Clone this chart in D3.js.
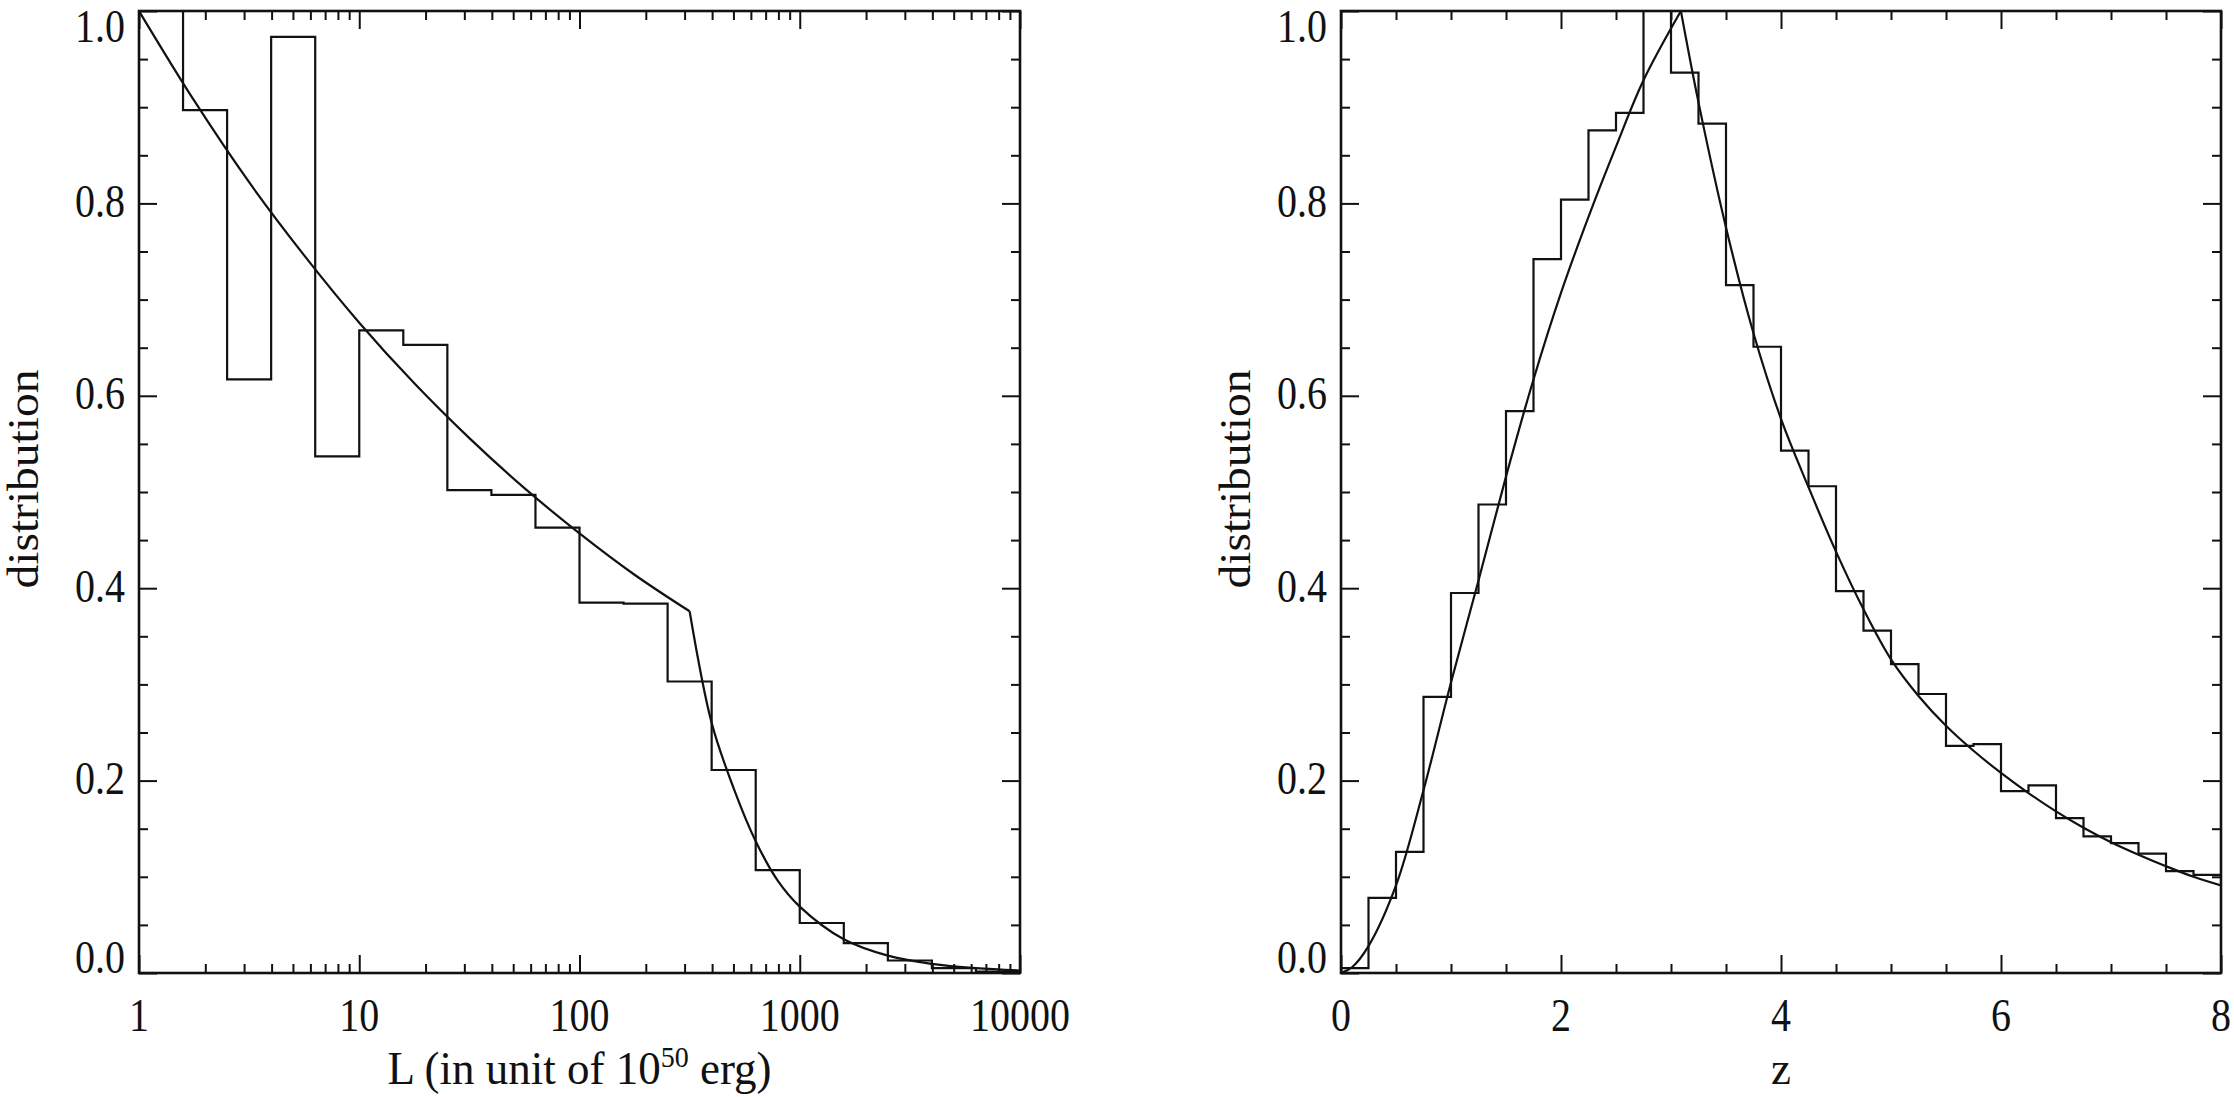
<!DOCTYPE html>
<html>
<head>
<meta charset="utf-8">
<script src="https://cdnjs.cloudflare.com/ajax/libs/d3/7.8.5/d3.min.js"></script>
<style>
  body { margin: 0; background: #fff; }
  svg { display: block; }
  text { font-family: "Liberation Serif", "Times New Roman", serif; fill: #111; }
</style>
</head>
<body>
<svg id="chart" width="2234" height="1097"></svg>
<script>
// ---- left panel: luminosity distribution (0.2 dex bins) ----
const lumEdges = [1, 1.585, 2.512, 3.981, 6.310, 10, 15.85, 25.12, 39.81, 63.10, 100,
                  158.5, 251.2, 398.1, 631.0, 1000, 1585, 2512, 3981, 6310, 10000];
const lumDist = [1.0, 0.897, 0.617, 0.973, 0.537, 0.668, 0.653, 0.502, 0.497, 0.463,
                 0.385, 0.384, 0.303, 0.211, 0.107, 0.052, 0.031, 0.013, 0.005, 0.0015];
// fitted curve, below and above the break
const lumFitL = [1, 1.778, 3.162, 5.623, 10, 17.78, 31.62, 56.23, 100, 177.8, 316.2];
const lumFitY = [1.0, 0.907, 0.822, 0.746, 0.676, 0.613, 0.556, 0.504, 0.457, 0.414, 0.376];
const lumTailL = [316.2, 398.1, 501.2, 631.0, 794.3, 1000, 1585, 2512, 3981, 6310, 10000];
const lumTailY = [0.376, 0.260, 0.192, 0.137, 0.096, 0.069, 0.035, 0.018, 0.0095, 0.005, 0.0026];
const lumTicks = [1, 10, 100, 1000, 10000];

// ---- right panel: redshift distribution (0.25 bins) ----
const zEdges = [0, 0.25, 0.5, 0.75, 1, 1.25, 1.5, 1.75, 2, 2.25, 2.5, 2.75, 3, 3.25, 3.5, 3.75, 4,
                4.25, 4.5, 4.75, 5, 5.25, 5.5, 5.75, 6, 6.25, 6.5, 6.75, 7, 7.25, 7.5, 7.75, 8];
const zDist = [0.005, 0.078, 0.126, 0.287, 0.395, 0.487, 0.584, 0.742, 0.804, 0.876, 0.894, 1.0,
               0.936, 0.883, 0.715, 0.651, 0.543, 0.506, 0.397, 0.356, 0.321, 0.290, 0.236, 0.238,
               0.189, 0.195, 0.161, 0.142, 0.135, 0.124, 0.106, 0.102];
const zRiseX = [0, 0.1, 0.25, 0.5, 0.75, 1.0, 1.25, 1.5, 1.75, 2.0, 2.25, 2.5, 2.75, 3.09];
const zRiseY = [0, 0.006, 0.028, 0.091, 0.19, 0.302, 0.408, 0.516, 0.617, 0.707, 0.786, 0.859, 0.928, 1.0];
const zFallX = [3.09, 3.25, 3.5, 3.75, 4.0, 4.25, 4.5, 4.75, 5.0, 5.25, 5.5, 5.75, 6.0, 6.25,
                6.5, 6.75, 7.0, 7.25, 7.5, 7.75, 8.0];
const zFallY = [1.0, 0.905, 0.775, 0.665, 0.576, 0.505, 0.438, 0.378, 0.326, 0.288, 0.257, 0.231,
                0.208, 0.187, 0.168, 0.151, 0.136, 0.123, 0.111, 0.100, 0.091];
const zTicks = [0, 2, 4, 6, 8];
const zMinor = [0.5, 1, 1.5, 2.5, 3, 3.5, 4.5, 5, 5.5, 6.5, 7, 7.5];

const yTicks = [0, 0.2, 0.4, 0.6, 0.8, 1.0];
const yMinor = [0.05, 0.1, 0.15, 0.25, 0.3, 0.35, 0.45, 0.5, 0.55, 0.65, 0.7, 0.75, 0.85, 0.9, 0.95];

const svg = d3.select("#chart");
svg.append("rect").attr("width", 2234).attr("height", 1097).attr("fill", "#fff");

const plotTop = 11, plotBottom = 973;
const ink = "#111";
const stretch = 1.15;   // the original lettering is taller than it is wide

// end labels sit inside the frame, the rest sit on their tick
const yLabelShift = d => d === 1 ? 15.5 : (d === 0 ? -15.5 : -2);

function drawPanel(cfg) {
  const g = svg.append("g");
  let x = cfg.x, y = d3.scaleLinear().domain([0, 1]).range([plotBottom, plotTop]);
  let [x0, x1] = x.range();

  g.append("clipPath").attr("id", cfg.id + "-clip")
    .append("rect").attr("x", x0).attr("y", plotTop).attr("width", x1 - x0).attr("height", plotBottom - plotTop);

  // histogram as a step line
  let steps = [];
  cfg.values.forEach((v, i) => {
    steps.push([cfg.edges[i], Math.min(v, 1)]);
    steps.push([cfg.edges[i + 1], Math.min(v, 1)]);
  });
  let line = d3.line().x(d => x(d[0])).y(d => y(d[1]));
  g.append("path").attr("clip-path", `url(#${cfg.id}-clip)`)
    .attr("d", line(steps)).attr("fill", "none").attr("stroke", ink).attr("stroke-width", 2.2);

  // model curve, drawn in two pieces so the kink stays sharp
  let smooth = d3.line().x(d => x(d[0])).y(d => y(d[1])).curve(d3.curveCatmullRom.alpha(0.5));
  cfg.curves.forEach(c => {
    g.append("path").attr("clip-path", `url(#${cfg.id}-clip)`)
      .attr("d", smooth(d3.zip(c[0], c[1])))
      .attr("fill", "none").attr("stroke", ink).attr("stroke-width", 2.2);
  });

  // ticks pointing inward on all four sides
  let styleAxis = sel => {
    sel.select(".domain").remove();
    sel.selectAll(".tick line").attr("stroke", ink).attr("stroke-width", 2);
  };
  let tickSets = [
    [d3.axisBottom(x).tickValues(cfg.major), 18, plotBottom, true],
    [d3.axisBottom(x).tickValues(cfg.minor), 9, plotBottom, true],
    [d3.axisTop(x).tickValues(cfg.major), 18, plotTop, true],
    [d3.axisTop(x).tickValues(cfg.minor), 9, plotTop, true],
    [d3.axisLeft(y).tickValues(yTicks), 18, x0, false],
    [d3.axisLeft(y).tickValues(yMinor), 9, x0, false],
    [d3.axisRight(y).tickValues(yTicks), 18, x1, false],
    [d3.axisRight(y).tickValues(yMinor), 9, x1, false]
  ];
  tickSets.forEach(([ax, len, pos, horiz]) => {
    g.append("g")
      .attr("transform", horiz ? `translate(0,${pos})` : `translate(${pos},0)`)
      .call(ax.tickSize(-len).tickSizeOuter(0).tickFormat(""))
      .call(styleAxis);
  });

  // frame
  g.append("rect").attr("x", x0).attr("y", plotTop).attr("width", x1 - x0).attr("height", plotBottom - plotTop)
    .attr("fill", "none").attr("stroke", ink).attr("stroke-width", 2.6);

  // tick labels
  g.selectAll(".xlab").data(cfg.major).join("text")
    .attr("transform", d => `translate(${x(d)},1031) scale(1,${stretch})`)
    .attr("text-anchor", "middle").attr("font-size", 40)
    .text(cfg.fmt);
  g.selectAll(".ylab").data(yTicks).join("text")
    .attr("transform", d => `translate(${x0 - 14},${y(d) + yLabelShift(d) + 15.5}) scale(1,${stretch})`)
    .attr("text-anchor", "end").attr("font-size", 40)
    .text(d3.format(".1f"));

  // y title
  g.append("text")
    .attr("transform", `translate(${cfg.yTitleX},479) scale(1,1.08) rotate(-90)`)
    .attr("text-anchor", "middle").attr("font-size", 44).text("distribution");

  // x title
  let t = g.append("text")
    .attr("transform", `translate(${(x0 + x1) / 2},1084) scale(1,1.05)`)
    .attr("text-anchor", "middle").attr("font-size", 45);
  cfg.xTitle(t);
}

drawPanel({
  id: "lum",
  x: d3.scaleLog().domain([1, 10000]).range([139, 1020]),
  edges: lumEdges, values: lumDist,
  curves: [[lumFitL, lumFitY], [lumTailL, lumTailY]],
  major: lumTicks,
  minor: d3.range(0, 4).flatMap(p => [2, 3, 4, 5, 6, 7, 8, 9].map(m => m * Math.pow(10, p))),
  fmt: d3.format("d"),
  yTitleX: 38,
  xTitle: t => {
    t.append("tspan").text("L (in unit of 10");
    t.append("tspan").attr("dy", -16).attr("font-size", 28).text("50");
    t.append("tspan").attr("dy", 16).text(" erg)");
  }
});

drawPanel({
  id: "z",
  x: d3.scaleLinear().domain([0, 8]).range([1341, 2221]),
  edges: zEdges, values: zDist,
  curves: [[zRiseX, zRiseY], [zFallX, zFallY]],
  major: zTicks,
  minor: zMinor,
  fmt: d3.format("d"),
  yTitleX: 1250,
  xTitle: t => t.text("z")
});
</script>
</body>
</html>
